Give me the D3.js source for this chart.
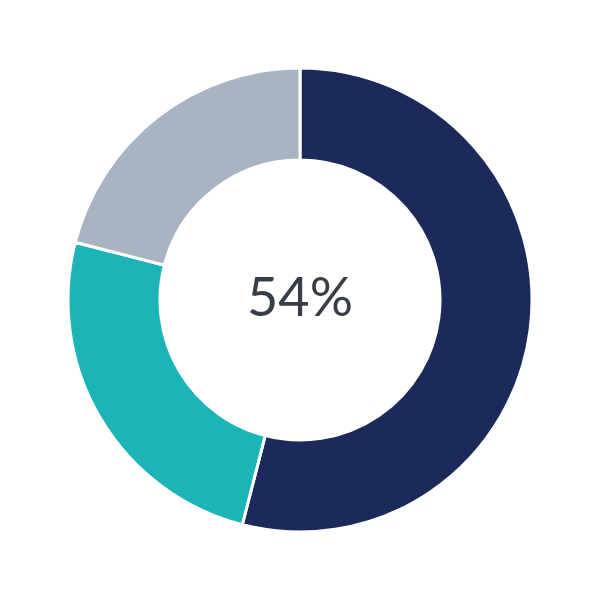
<!DOCTYPE html>
<html><head><meta charset="utf-8">
<script src="https://cdn.jsdelivr.net/npm/d3@7"></script>
<style>html,body{margin:0;padding:0;background:#fff;}</style>
</head><body>
<svg id="chart" width="600" height="600"></svg>
<script>
const categories = ["A", "B", "C"];
const values = [54, 25, 21];
const colors = ["#1b2a5a", "#1bb4b7", "#a9b4c2"];
const centerLabel = "54%";

const svg = d3.select("#chart");
const g = svg.append("g").attr("transform", "translate(300,300)");
const pie = d3.pie().sort(null).value(d => d.v);
const arc = d3.arc().innerRadius(140).outerRadius(232);
const data = categories.map((c, i) => ({c, v: values[i], col: colors[i]}));
g.selectAll("path").data(pie(data)).join("path")
  .attr("d", arc)
  .attr("fill", d => d.data.col)
  .attr("stroke", "#fff")
  .attr("stroke-width", 3);
g.append("text").text(centerLabel)
  .attr("text-anchor", "middle")
  .attr("y", 16)
  .attr("font-family", "Lato")
  .attr("font-weight", 400)
  .attr("font-size", 54)
  .attr("fill", "#383e48");
</script>
</body></html>
